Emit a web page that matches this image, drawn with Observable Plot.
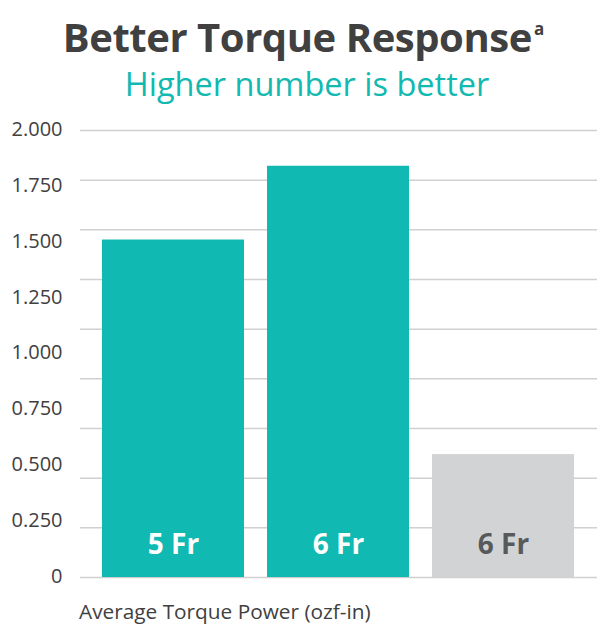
<!DOCTYPE html>
<html>
<head>
<meta charset="utf-8">
<script src="https://cdn.jsdelivr.net/npm/d3@7"></script>
<script src="https://cdn.jsdelivr.net/npm/@observablehq/plot@0.6"></script>
<style>
  html, body { margin: 0; padding: 0; background: #fff; }
  #wrap { position: relative; width: 607px; height: 639px; font-family: "Open Sans", sans-serif; overflow: hidden; }
  #wrap svg { position: absolute; left: 0; top: 0; }
  .t { position: absolute; white-space: nowrap; line-height: 1; }
  #title { top: 16.5px; left: 0; width: 607px; text-align: center; font-size: 40px; font-weight: 700; color: #404041; letter-spacing: -0.45px; }
  #title sup { font-size: 17px; vertical-align: 0; position: relative; top: -0.95em; margin-left: 2px; letter-spacing: 0; }
  #subtitle { top: 68px; left: 0; width: 614px; text-align: center; font-size: 32.5px; font-weight: 400; color: #12b9b1; }
  #xlabel { top: 601px; left: 79px; font-size: 20.8px; color: #404041; }
</style>
</head>
<body>
<div id="wrap">
  <div id="chart"></div>
  <div class="t" id="title">Better Torque Response<sup>a</sup></div>
  <div class="t" id="subtitle">Higher number is better</div>
  <div class="t" id="xlabel">Average Torque Power (ozf-in)</div>
</div>
<script>
// Data
const keys = ["a", "b", "c"];
const labels = ["5 Fr", "6 Fr", "6 Fr"];
const values = [1.51, 1.84, 0.55];
const barColors = ["#10bab2", "#10bab2", "#d1d3d4"];
const labelColors = ["#ffffff", "#ffffff", "#58595b"];
const tickValues = [0, 0.25, 0.5, 0.75, 1, 1.25, 1.5, 1.75, 2];
const tickLabels = ["0", "0.250", "0.500", "0.750", "1.000", "1.250", "1.500", "1.750", "2.000"];
const gridCount = 10; // the reference draws 10 evenly spaced gridlines

const data = keys.map((k, i) => ({key: k, label: labels[i], value: values[i], fill: barColors[i], text: labelColors[i]}));
const gridValues = d3.range(gridCount).map(i => i * 2 / (gridCount - 1));

const chart = Plot.plot({
  width: 607,
  height: 639,
  marginTop: 130,
  marginBottom: 62,
  marginLeft: 80,
  marginRight: 10,
  style: {fontFamily: "Open Sans, sans-serif", background: "transparent"},
  x: {domain: keys, paddingInner: 0.137, paddingOuter: 0.127, axis: null},
  y: {domain: [0, 2], axis: null},
  color: {type: "identity"},
  marks: [
    Plot.ruleY(gridValues, {stroke: "#d0d0d0", strokeWidth: 1.5}),
    Plot.barY(data, {x: "key", y: "value", fill: "fill"}),
    Plot.axisY({
      ticks: tickValues,
      tickFormat: d => tickLabels[tickValues.indexOf(d)],
      tickSize: 0,
      tickPadding: 18,
      fontSize: 20,
      fill: "#404041",
      dy: -1,
      label: null
    }),
    Plot.text(data, {x: "key", y: () => 0, text: "label", fill: "text", fontSize: 28, fontWeight: "bold", dy: -32})
  ]
});
document.getElementById("chart").appendChild(chart);
</script>
</body>
</html>
